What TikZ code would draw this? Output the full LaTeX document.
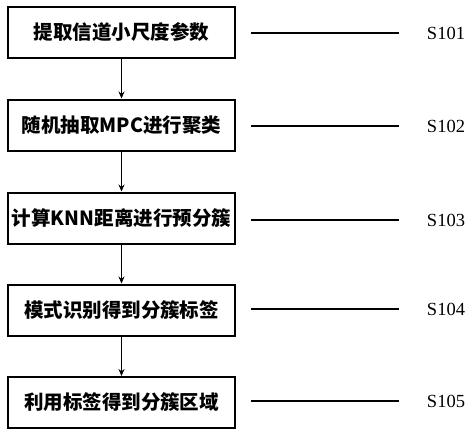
\documentclass[tikz,border=0pt]{standalone}
\usepackage{fontspec}
\setmainfont{Liberation Serif}
\newfontfamily\cjk{Noto Sans CJK SC}
\usetikzlibrary{arrows.meta}
\tikzset{
    stepbox/.style={draw, line width=2pt, minimum width=227pt, minimum height=51pt,
        inner sep=0pt, font=\cjk\bfseries\fontsize{19.5}{22}\selectfont},
    steplabel/.style={inner sep=0pt, font=\fontsize{18.5}{21}\selectfont},
    flowarrow/.style={line width=1pt, -{Stealth[length=7pt, width=6pt]}},
    tagline/.style={line width=1.5pt}
}
\begin{document}
\begin{tikzpicture}[x=1pt, y=-1pt]
    \useasboundingbox (0,0) rectangle (474,436);

    % ---------------- steps ----------------
    \node[stepbox] (s1) at (121.5,32.5) {提取信道小尺度参数};
    \node[stepbox] (s2) at (121.5,125) {随机抽取MPC进行聚类};
    \node[stepbox] (s3) at (121.5,218) {计算KNN距离进行预分簇};
    \node[stepbox] (s4) at (121.5,310) {模式识别得到分簇标签};
    \node[stepbox] (s5) at (121.5,402.5) {利用标签得到分簇区域};

    \foreach \a/\b in {s1/s2, s2/s3, s3/s4, s4/s5}
        \draw[flowarrow] (\a) -- (\b);

    % ---------------- labels ----------------
    \node[steplabel] (l1) at (446,33) {S101};
    \node[steplabel] (l2) at (446,126) {S102};
    \node[steplabel] (l3) at (446,220) {S103};
    \node[steplabel] (l4) at (446,309) {S104};
    \node[steplabel] (l5) at (446,401) {S105};

    \foreach \i in {1,...,5}
        \draw[tagline] ([xshift=15pt]s\i.east |- l\i) -- ([xshift=-28pt]l\i.west);
\end{tikzpicture}
\end{document}
